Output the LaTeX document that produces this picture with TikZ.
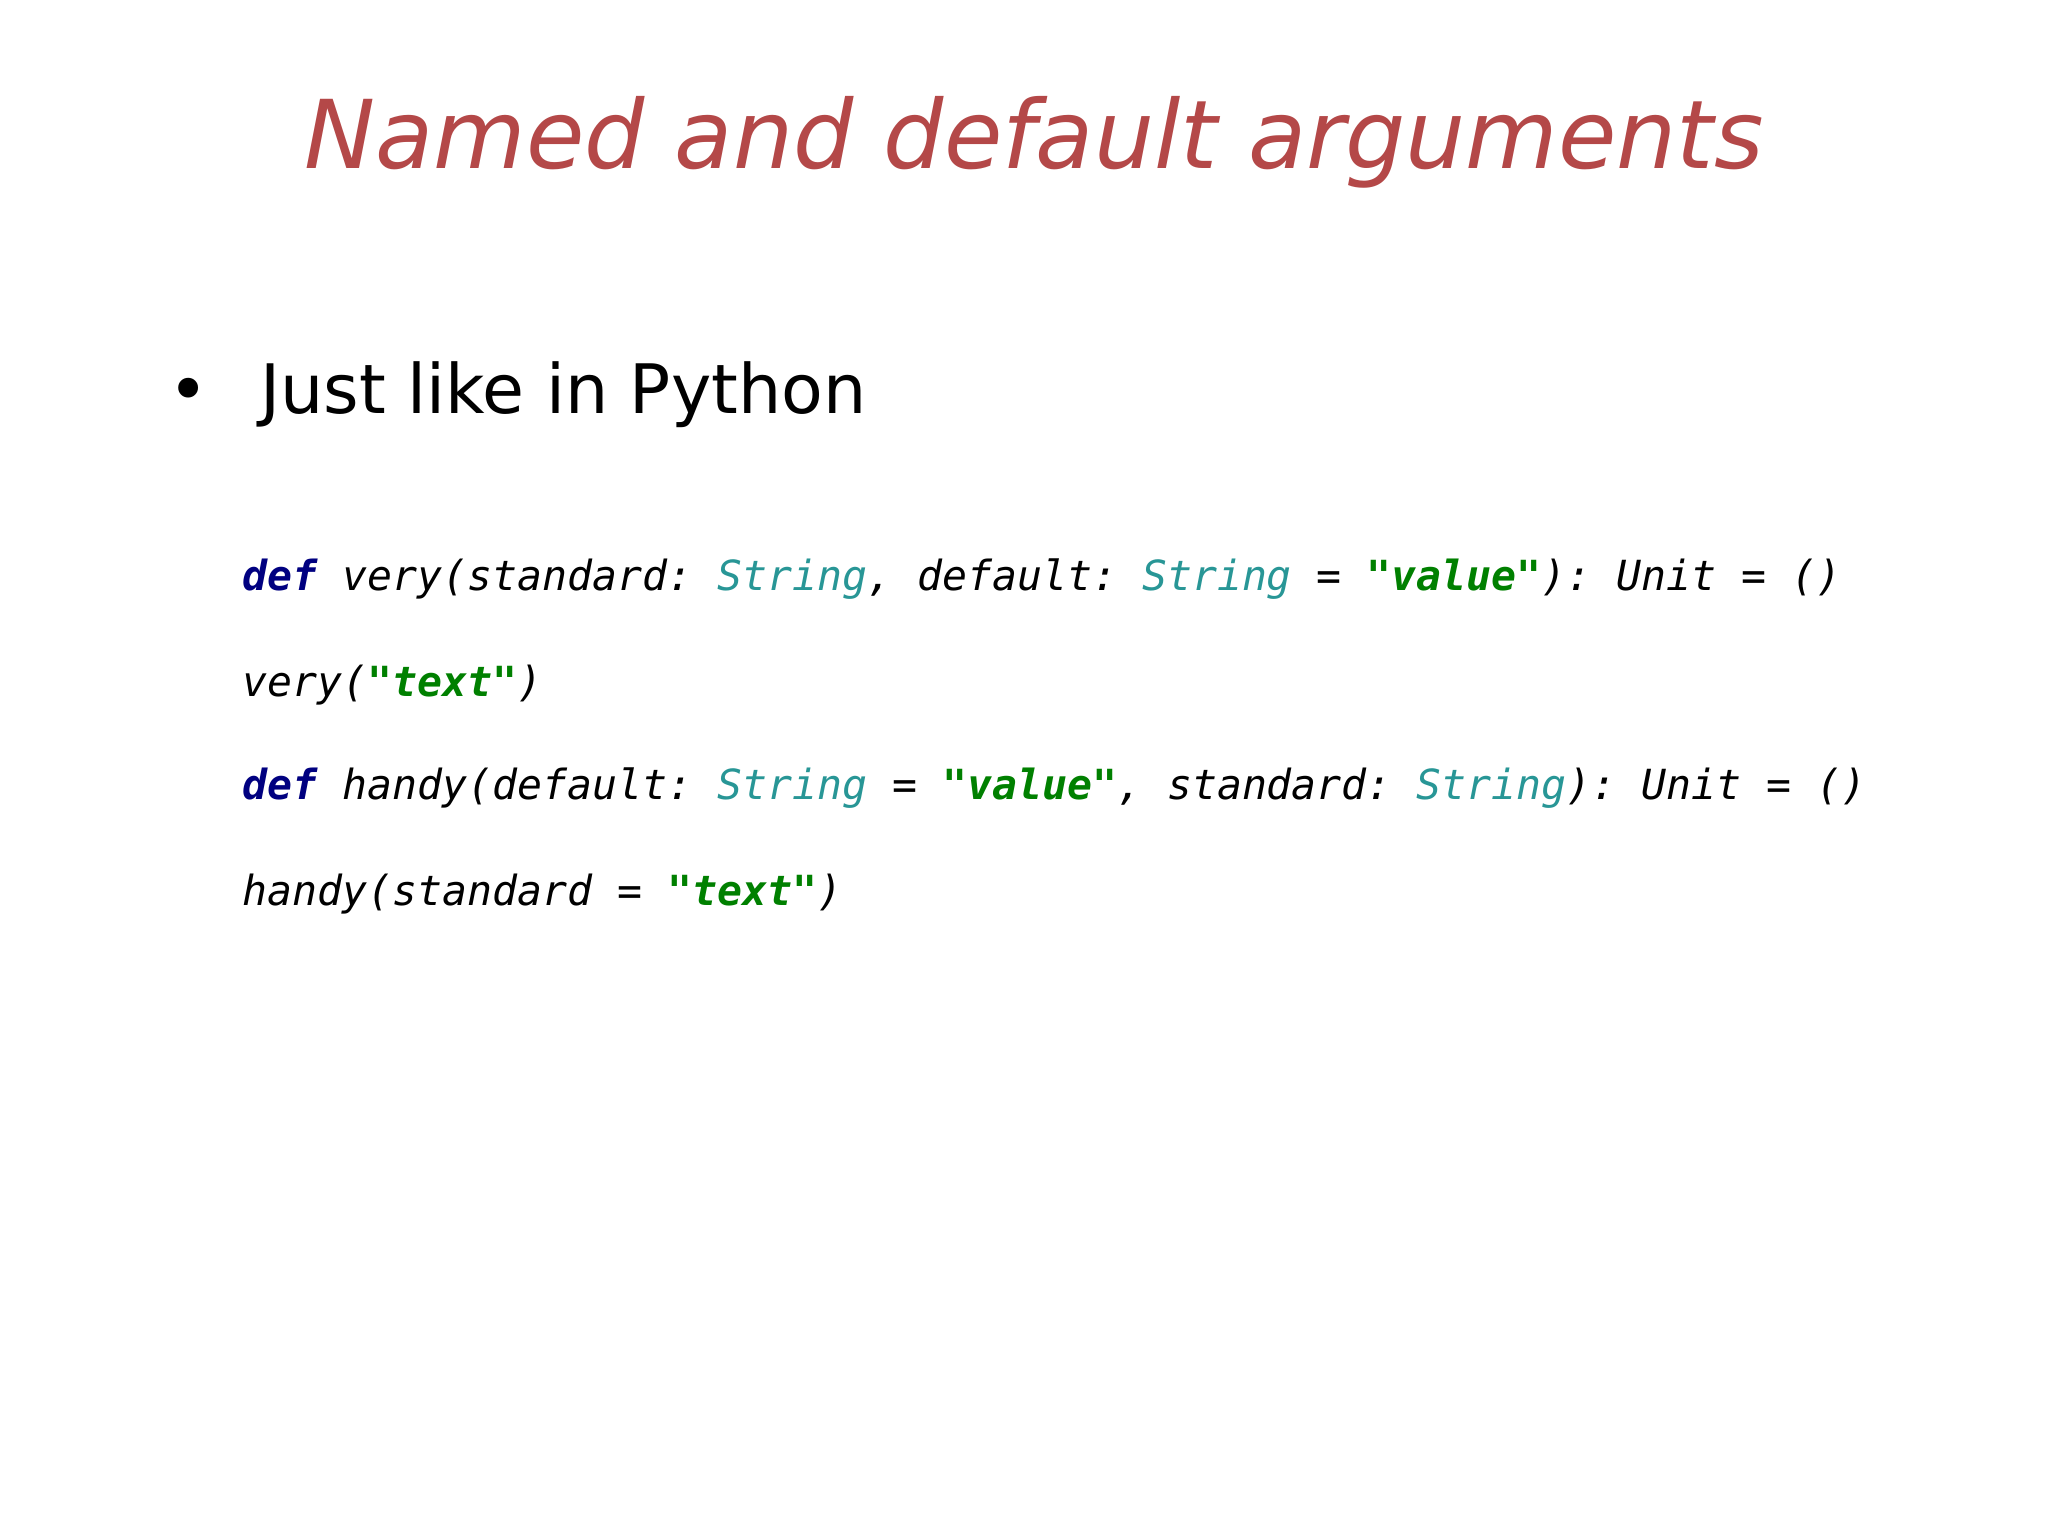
\documentclass[tikz,border=0pt]{standalone}
\usepackage{fontspec}
\setmainfont{DejaVu Sans}
\setmonofont{DejaVu Sans Mono}
\definecolor{titlered}{RGB}{180,72,72}
\definecolor{kw}{RGB}{0,0,128}
\definecolor{ty}{RGB}{40,150,150}
\definecolor{str}{RGB}{0,128,0}
\newcommand{\K}[1]{\textcolor{kw}{\bfseries #1}}
\newcommand{\T}[1]{\textcolor{ty}{#1}}
\newcommand{\Q}[1]{\textcolor{str}{\bfseries #1}}
\begin{document}
\begin{tikzpicture}[x=0.01cm,y=-0.01cm,
  codeline/.style={anchor=base west,inner sep=0pt,font=\ttfamily\itshape\fontsize{11.8pt}{14pt}\selectfont}]
\useasboundingbox[fill=white] (0,0) rectangle (2048,1535);
\node[anchor=base,inner sep=0pt,text=titlered,font=\itshape\fontsize{27pt}{32pt}\selectfont] (title) at (1034,168) {Named and default arguments};
\node[anchor=base west,inner sep=0pt,font=\fontsize{19.4pt}{23pt}\selectfont] (bullet) at (168,413) {\textbullet\hspace{0.75em}Just like in Python};
\node[codeline] (l1) at (242,590) {\K{def} very(standard: \T{String}, default: \T{String} = \Q{"value"}): Unit = ()};
\node[codeline] (l2) at (242,696) {very(\Q{"text"})};
\node[codeline] (l3) at (242,799) {\K{def} handy(default: \T{String} = \Q{"value"}, standard: \T{String}): Unit = ()};
\node[codeline] (l4) at (242,905) {handy(standard = \Q{"text"})};
\end{tikzpicture}
\end{document}
